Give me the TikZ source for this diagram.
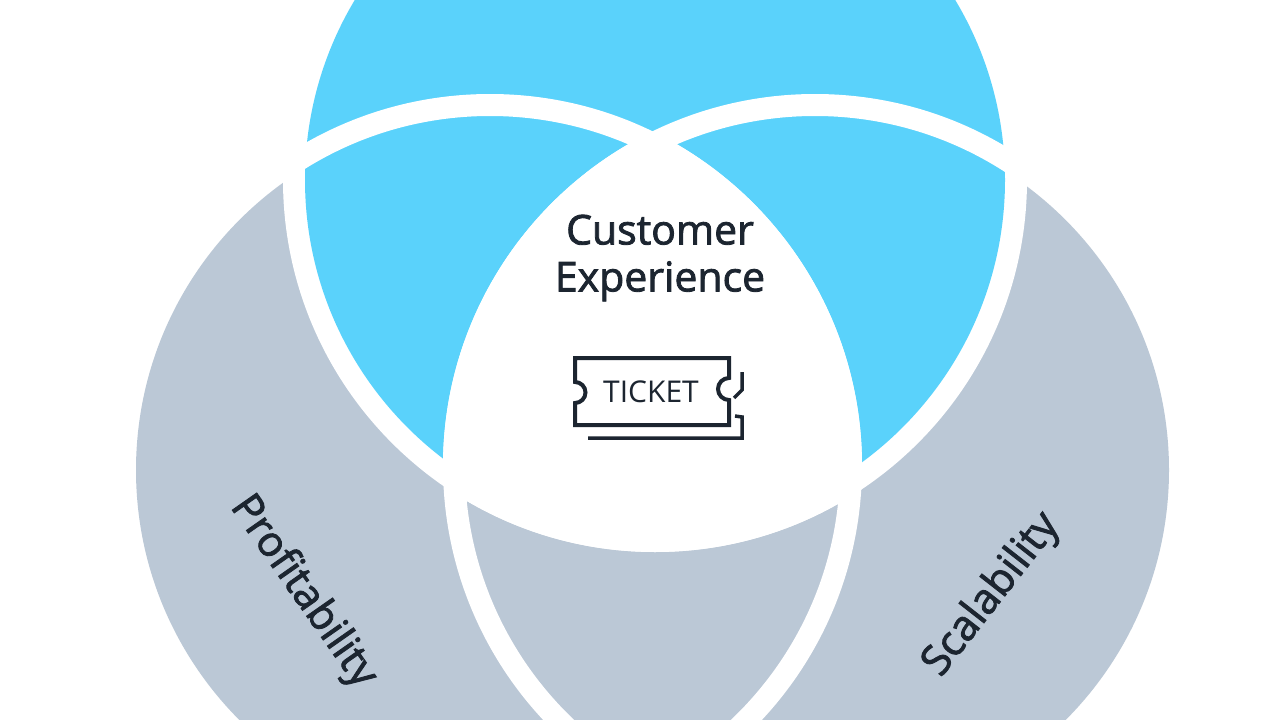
\documentclass[tikz,border=0pt]{standalone}
\usepackage{fontspec}
\setmainfont{Open Sans}
\newfontfamily\labelfont[FakeBold=2]{Open Sans}
\definecolor{skyfill}{HTML}{5AD2FB}
\definecolor{slatefill}{HTML}{BBC8D6}
\definecolor{inkdark}{HTML}{1C2530}
\tikzset{
  petal/.style={fill=slatefill,radius=354pt},
  ring/.style={draw=white,line width=22pt,radius=361pt},
  sidelabel/.style={text=inkdark,font=\labelfont\fontsize{42}{46}\selectfont},
  iconline/.style={draw=inkdark,line width=4pt,line join=miter}
}
\begin{document}
\begin{tikzpicture}[x=1pt,y=-1pt]
\useasboundingbox (0,0) rectangle (1280,720);
\clip (0,0) rectangle (1280,720);
\fill[white] (0,0) rectangle (1280,720);
\coordinate (top) at (655,180);
\coordinate (left) at (490,466);
\coordinate (right) at (815,466);
% circles
\fill[petal] (490,470) circle;
\fill[petal] (815,470) circle;
\fill[white] (top) circle [radius=372pt];
\fill[skyfill] (top) circle [radius=350pt];
\begin{scope}
\clip (286,0) rectangle (1024,720);
\draw[ring] (left) circle;
\draw[ring] (right) circle;
\end{scope}
% middle part
\begin{scope}
\clip (top) circle [radius=372pt];
\clip (left) circle [radius=372pt];
\clip (right) circle [radius=372pt];
\fill[white] (0,0) rectangle (1280,720);
\end{scope}
% labels
\node[text=inkdark,font=\labelfont\fontsize{41}{47}\selectfont,align=center] (cx) at (660,258) {Customer\\Experience};
\node[sidelabel,rotate=-55] (profit) at (303,592) {Profitability};
\node[sidelabel,rotate=52] (scale) at (992,595) {Scalability};
% ticket
\draw[iconline] (575,358) -- (729,358) -- (729,378) arc (90:270:11pt) -- (729,425) -- (575,425) -- (575,403) arc (-90:90:10.5pt) -- cycle;
\draw[iconline,line width=3.5pt] (588,438) -- (742,438) -- (742,417) -- (735,416);
\draw[iconline,line width=3.5pt] (742,372) -- (742,390) -- (734,398);
\node[text=inkdark,font=\fontsize{30}{32}\selectfont] (ticket) at (651,392) {TICKET};
\end{tikzpicture}
\end{document}
